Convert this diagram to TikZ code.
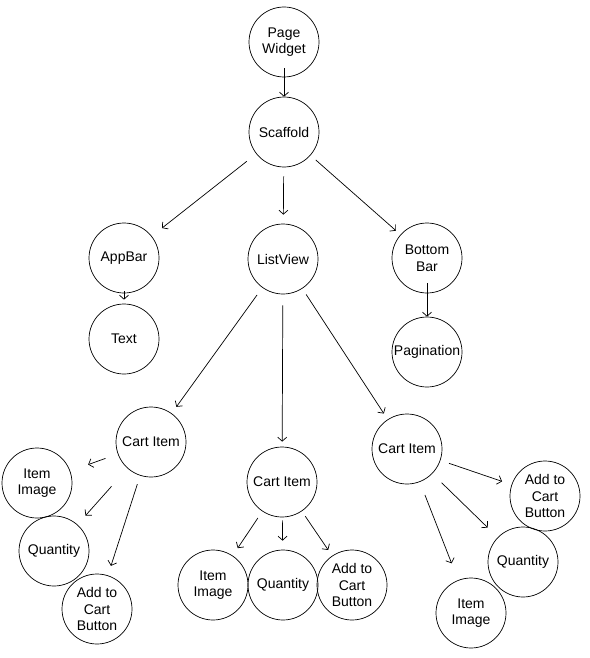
\documentclass[tikz,border=0pt]{standalone}
\usepackage{fontspec}
\setmainfont{Liberation Sans}
\usetikzlibrary{arrows.meta}
\begin{document}
\begin{tikzpicture}[x=1pt,y=-1pt,->,>={Straight Barb[length=4pt,width=9pt]},line width=0.7pt,
  widget/.style={draw,circle,minimum size=70pt,inner sep=0pt,align=center,font=\fontsize{14}{16.5}\selectfont}]
\useasboundingbox (0,0) rectangle (589,658);
\node[widget] (pw) at (284,42) {Page\\Widget};
\node[widget] (scaffold) at (284,132) {Scaffold};
\node[widget] (appbar) at (124,258) {AppBar};
\node[widget] (txt) at (124,339) {Text};
\node[widget] (listview) at (283,259) {ListView};
\node[widget] (bottombar) at (427,258) {Bottom\\Bar};
\node[widget] (pagination) at (427,352) {Pagination};
% left cart item
\node[widget] (cartL) at (151,442) {Cart Item};
\node[widget] (imgL) at (37,483) {Item\\Image};
\node[widget] (qtyL) at (54,551) {Quantity};
\node[widget] (addL) at (97,609) {Add to\\Cart\\Button};
% middle cart item
\node[widget] (cartM) at (282,482) {Cart Item};
\node[widget] (imgM) at (213,585) {Item\\Image};
\node[widget] (qtyM) at (283,585) {Quantity};
\node[widget] (addM) at (352,585) {Add to\\Cart\\Button};
% right cart item
\node[widget] (cartR) at (407,449) {Cart Item};
\node[widget] (addR) at (545,496) {Add to\\Cart\\Button};
\node[widget] (qtyR) at (523,562) {Quantity};
\node[widget] (imgR) at (471,613) {Item\\Image};
\draw (pw) edge[shorten <=-9pt] (scaffold);
\draw (scaffold) edge[shorten <=12pt,shorten >=13pt] (appbar);
\draw (scaffold) edge[shorten <=9pt,shorten >=9pt] (listview);
\draw (scaffold) edge[shorten <=7pt,shorten >=6pt] (bottombar);
\draw (appbar) edge[shorten <=-2pt,shorten >=4pt] (txt);
\draw (bottombar) edge[shorten <=-10pt] (pagination);
\draw (listview) edge[shorten <=9pt,shorten >=8pt] (cartL);
\draw (listview) edge[shorten <=11pt,shorten >=5pt] (cartM);
\draw (listview) edge[shorten <=7pt,shorten >=7pt] (cartR);
\draw (cartL) edge[shorten <=13pt,shorten >=19pt] (imgL);
\draw (cartL) edge[shorten <=24pt,shorten >=12pt] (qtyL);
\draw (cartL) edge[shorten <=9pt,shorten >=10pt] (addL);
\draw (cartM) edge[shorten <=8pt,shorten >=9pt] (imgM);
\draw (cartM) edge[shorten <=3pt,shorten >=9pt] (qtyM);
\draw (cartM) edge[shorten <=6pt,shorten >=7pt] (addM);
\draw (cartR) edge[shorten <=9pt,shorten >=10pt] (addR);
\draw (cartR) edge[shorten <=13pt,shorten >=14pt] (qtyR);
\draw (cartR) edge[shorten <=14pt,shorten >=18pt] (imgR);
\end{tikzpicture}
\end{document}
